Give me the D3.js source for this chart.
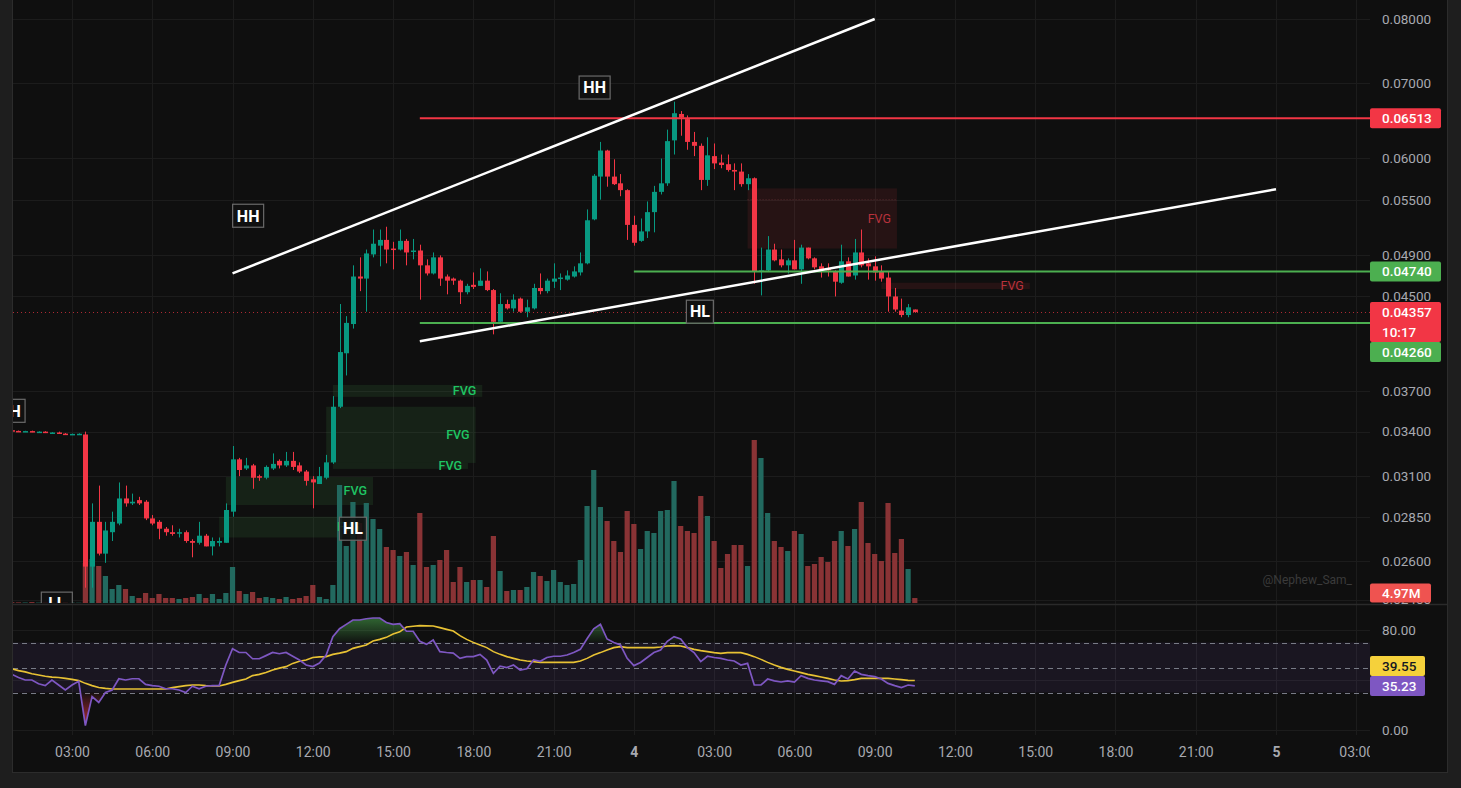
<!DOCTYPE html>
<html>
<head>
<meta charset="utf-8">
<script src="https://cdn.jsdelivr.net/npm/d3@7"></script>
<style>
html, body { margin: 0; padding: 0; background: #1e1e1e; overflow: hidden; }
text { font-family: Roboto, "Noto Sans", sans-serif; }
</style>
</head>
<body>
<div id="chart"></div>
<script>
// 15 minute candles, first one at day 3 00:45
const startTime = new Date(2024, 0, 3, 0, 45)
const barMinutes = 15

const open = [
  .03410, .03405, .03402, .03404, .03398, .03400, .03392, .03394, .03386, .03382, .03384,
  .0338, .0257, .0282, .0264, .0276, .0281, .0296, .0293, .0295, .0294,
  .0284, .0282, .0278, .0276, .02755, .0276, .0271, .0270, .0274, .0268,
  .0270, .0270, .0288, .0321, .0315, .0317, .0310, .0309, .0315, .0320,
  .0317, .0320, .0317, .0313, .0308, .0305, .0309, .0319, .0358, .0400,
  .0425, .0469, .0467, .0491, .0500, .0506, .0497, .0496, .0505, .0494,
  .0495, .0480, .0472, .0488, .0469, .0467, .0465, .0454, .0461, .0460,
  .0465, .0456, .0427, .0443, .0439, .0448, .0436, .0439, .0458, .0455,
  .0464, .0467, .0466, .0469, .0473, .0482, .0528, .0577, .0609, .0577,
  .0569, .0561, .0522, .0505, .0515, .0536, .0559, .0569, .0622, .0657,
  .0650, .0620, .0615, .0573, .0602, .0594, .0592, .0585, .0583, .0568,
  .0575, .0474, .0475, .0496, .0486, .0480, .0485, .0476, .0498, .0487,
  .0479, .0477, .0474, .0463, .0484, .0470, .0493, .0482, .0479, .0474,
  .0468, .0450, .0437, .0433, .0438
]
const high = [
  .03412, .03408, .03406, .03407, .03402, .03403, .03396, .03400, .03390, .03386, .03388,
  .0340, .0293, .0304, .0282, .0288, .0306, .0304, .0299, .0297, .0295,
  .0286, .0283, .0279, .0280, .0278, .0277, .0272, .0282, .0275, .0273,
  .0273, .0293, .0330, .0322, .0322, .0318, .0311, .0317, .0325, .0321,
  .0326, .0326, .0319, .0314, .0310, .0316, .0324, .0366, .0443, .0432,
  .0480, .0488, .0496, .0517, .0517, .0520, .0504, .0517, .0507, .0507,
  .0501, .0486, .0493, .0490, .0471, .0468, .0466, .0462, .0473, .0477,
  .0474, .0457, .0453, .0447, .0452, .0449, .0447, .0462, .0472, .0467,
  .0482, .0472, .0475, .0479, .0493, .0539, .0580, .0620, .0610, .0598,
  .0580, .0562, .0532, .0529, .0548, .0566, .0599, .0636, .0674, .0661,
  .0655, .0633, .0618, .0626, .0618, .0604, .0604, .0593, .0593, .0580,
  .0576, .0498, .0510, .0502, .0496, .0487, .0506, .0501, .0498, .0488,
  .0482, .0482, .0475, .0501, .0488, .0507, .0517, .0487, .0489, .0480,
  .0474, .0458, .0448, .0443, .0438
]
const low = [
  .03402, .03400, .03400, .03396, .03396, .03390, .03390, .03384, .03380, .03380, .03382,
  .0246, .0246, .0263, .0259, .0271, .0280, .0291, .0292, .0292, .0283,
  .0280, .0272, .0274, .0274, .0273, .0270, .0262, .0269, .0268, .0263,
  .0268, .0270, .0285, .0310, .0314, .0302, .0307, .0308, .0314, .0315,
  .0316, .0314, .0312, .0304, .0290, .0305, .0308, .0318, .0357, .0382,
  .0421, .0455, .0436, .0488, .0479, .0482, .0476, .0495, .0480, .0486,
  .0447, .0470, .0471, .0460, .0452, .0461, .0443, .0452, .0457, .0460,
  .0455, .0416, .0426, .0438, .0436, .0435, .0431, .0438, .0452, .0453,
  .0458, .0456, .0465, .0468, .0470, .0481, .0527, .0550, .0565, .0567,
  .0554, .0506, .0500, .0504, .0508, .0514, .0556, .0566, .0604, .0628,
  .0610, .0602, .0561, .0566, .0586, .0587, .0583, .0561, .0565, .0561,
  .0462, .0451, .0474, .0484, .0478, .0472, .0476, .0462, .0486, .0476,
  .0468, .0469, .0450, .0462, .0469, .0466, .0478, .0466, .0465, .0464,
  .0436, .0436, .0431, .0431, .0435
]
const close = [
  .03405, .03402, .03404, .03398, .03400, .03392, .03394, .03386, .03382, .03384, .03385,
  .0257, .0282, .0264, .0277, .0282, .0296, .0293, .0294, .0293, .0284,
  .0281, .0278, .0276, .0275, .0276, .0271, .0270, .0274, .0268, .0271,
  .0271, .0289, .0321, .0314, .0317, .0309, .0309, .0316, .0318, .0317,
  .0320, .0316, .0313, .0307, .0306, .0310, .0319, .0358, .0401, .0426,
  .0469, .0467, .0492, .0502, .0506, .0496, .0496, .0505, .0493, .0495,
  .0480, .0472, .0488, .0467, .0465, .0465, .0454, .0460, .0459, .0465,
  .0456, .0427, .0443, .0439, .0447, .0436, .0440, .0458, .0455, .0465,
  .0467, .0468, .0470, .0474, .0482, .0527, .0578, .0609, .0577, .0568,
  .0561, .0522, .0503, .0515, .0536, .0559, .0569, .0621, .0658, .0652,
  .0620, .0615, .0573, .0603, .0593, .0591, .0585, .0583, .0568, .0575,
  .0474, .0475, .0496, .0485, .0480, .0485, .0476, .0498, .0487, .0478,
  .0476, .0475, .0464, .0484, .0469, .0493, .0480, .0479, .0473, .0467,
  .0450, .0438, .0433, .0440, .04357
]
// volume in millions
const volume = [
  0.8, 0.6, 0.5, 0.9, 0.4, 1.2, 0.5, 1.5, 1.0, 0.4, 0.3,
  40, 44, 37, 27, 14, 18, 14, 7, 5, 10,
  5, 9, 5, 5, 4, 5, 6, 9, 5, 9,
  4, 10, 36, 12, 9, 11, 5, 6, 5, 4,
  6, 4, 5, 7, 18, 6, 4, 18, 118, 57,
  101, 80, 100, 84, 74, 56, 53, 47, 51, 38,
  90, 36, 38, 43, 53, 21, 36, 21, 23, 23,
  16, 67, 32, 12, 13, 13, 16, 31, 27, 22,
  33, 21, 18, 19, 43, 97, 133, 96, 82, 62,
  51, 92, 79, 54, 72, 70, 92, 93, 122, 77,
  72, 70, 107, 87, 62, 35, 49, 58, 58, 37,
  163, 145, 90, 62, 56, 52, 72, 69, 37, 39,
  46, 41, 62, 72, 57, 74, 101, 60, 49, 42,
  100, 50, 64, 34, 4.97
]
const rsi = [
  44.5, 42, 40, 40, 37, 35.5, 40, 36, 32, 36, 39,
  3.5, 26.7, 22, 30, 32, 41, 40, 41, 41, 36.5,
  35.5, 35, 33, 33, 32, 30, 35, 33, 35, 35.5,
  35.5, 52, 65, 62, 62, 57, 57, 59.5, 62, 61,
  62, 59, 56, 52, 50.7, 53.5, 60, 74.7, 81, 84.5,
  88, 88, 89, 89.6, 89.6, 86, 84.5, 85, 79, 79,
  71, 68.5, 72, 62.7, 62, 61.5, 57.3, 58.7, 58.7, 60.5,
  56, 45.3, 51, 50, 52, 48, 49, 56, 55, 58,
  59, 59, 60, 62, 64.5, 73, 81, 84.5, 72.8, 70,
  68, 57.3, 51.5, 54, 58, 62, 64, 71, 74.7, 72.8,
  65.9, 62, 54.7, 59, 58, 57.3, 56, 55.2, 52, 53.3,
  36, 36, 40.8, 39.3, 38.4, 39.3, 38.4, 43.5, 41.3, 40,
  39.3, 38.7, 36.5, 43.5, 40.8, 47.2, 44.5, 43.5, 42.7, 40.8,
  37.3, 35.5, 34, 36, 35.23
]
const rsiMa = [
  49, 47.5, 46.5, 45, 44, 43, 42.3, 42, 41.3, 40.5, 39.5,
  37.3, 35.5, 34, 33.3, 32.8, 32.8, 32.8, 32.8, 32.8, 32.8,
  32.8, 32.8, 32.8, 33.9, 34.7, 35.5, 36, 36, 35.5, 35.2,
  35.2, 36.5, 38.1, 39.5, 40.8, 43.5, 44.5, 46, 48, 49.5,
  50.7, 53.3, 55, 56, 58, 58.5, 58.7, 60.5, 61.5, 62.7,
  65.3, 66.7, 68, 71.2, 72.5, 74.1, 76.8, 78.5, 82.4, 83,
  83.5, 83.3, 83.2, 81.9, 80.5, 79.2, 75.5, 72.5, 70.1, 68,
  65.9, 62.7, 60.5, 58.7, 57.3, 56, 55.2, 54.7, 54.1, 54.1,
  54.1, 54.1, 54.1, 54.1, 55.2, 57.3, 60, 61.9, 64, 65.9,
  66.7, 65.9, 65.9, 65.9, 65.9, 65.9, 66.4, 67.2, 67.5, 67.2,
  65.9, 64.5, 63.5, 62.7, 61.9, 61.3, 61.9, 61.9, 61.9, 60.5,
  58.7, 56.5, 54.1, 52, 50.1, 48.5, 47.2, 45.9, 44.5, 43.5,
  42.4, 41.3, 40, 39.2, 39.5, 40.3, 41.3, 41.3, 41.3, 41.3,
  41.3, 40.8, 40.3, 39.7, 39.55
]

const priceTicks = [0.08, 0.07, 0.06, 0.055, 0.049, 0.045, 0.037, 0.034, 0.031, 0.0285, 0.026, 0.024]
const rsiTicks = [80, 0]
const rsiGrid = [80, 40, 0]

// fair value gaps: [start, end, top, bottom]
const fvgGreen = [
  [new Date(2024, 0, 3, 12, 45), new Date(2024, 0, 3, 18, 20), 0.03746, 0.03654],
  [new Date(2024, 0, 3, 12, 30), new Date(2024, 0, 3, 18, 5), 0.03580, 0.03186],
  [new Date(2024, 0, 3, 12, 45), new Date(2024, 0, 3, 17, 48), 0.03186, 0.03147],
  [new Date(2024, 0, 3, 8, 45), new Date(2024, 0, 3, 14, 15), 0.03095, 0.02920],
  [new Date(2024, 0, 3, 8, 30), new Date(2024, 0, 3, 14, 0), 0.02850, 0.02730]
]
const fvgRed = [
  [new Date(2024, 0, 4, 4, 15), new Date(2024, 0, 4, 9, 50), 0.0563, 0.0497],
  [new Date(2024, 0, 4, 9, 15), new Date(2024, 0, 4, 14, 48), 0.0463, 0.0457]
]
// market structure labels
const structText = ['HH', 'HH', 'HL', 'HL', 'HH', 'LL']
const structTime = [
  new Date(2024, 0, 3, 9, 35), new Date(2024, 0, 3, 22, 32), new Date(2024, 0, 4, 2, 28),
  new Date(2024, 0, 3, 13, 30), new Date(2024, 0, 3, 0, 40), new Date(2024, 0, 3, 2, 26)
]
const structPrice = [0.0532, 0.0694, 0.0436, 0.0278, 0.0355, 0.0238]
// trend lines
const trendFrom = [[new Date(2024, 0, 3, 9, 0), 0.0472], [new Date(2024, 0, 3, 16, 0), 0.0410]]
const trendTo = [[new Date(2024, 0, 4, 9, 0), 0.0800], [new Date(2024, 0, 5, 0, 0), 0.0562]]
// horizontal levels
const levelPrice = [0.06513, 0.0474, 0.0426]
const levelStart = [new Date(2024, 0, 3, 16, 0), new Date(2024, 0, 4, 0, 0), new Date(2024, 0, 3, 16, 0)]
const levelColor = ['#f23645', '#4caf50', '#4caf50']
const countdown = '10:17'

const W = 1461, H = 788
const left = 13, right = 1370
const mainBottom = 603, rsiTop = 605, rsiBottom = 735

const bars = open.map((o, i) => ({
  t: d3.timeMinute.offset(startTime, i * barMinutes),
  o: o, h: high[i], l: low[i], c: close[i], v: volume[i], rsi: rsi[i], ma: rsiMa[i]
}))

const x = d3.scaleTime()
  .domain([new Date(2024, 0, 3, 3, 0), new Date(2024, 0, 5, 0, 0)])
  .range([72, 1276])
const y = d3.scaleLog().domain([0.026, 0.08]).range([561, 19])
const yVol = d3.scaleLinear().domain([0, 170]).range([mainBottom, 433])
const yRsi = d3.scaleLinear().domain([0, 100]).range([730, 605])

const up = '#089981', down = '#f23645'

const svg = d3.select('#chart').append('svg')
  .attr('width', W).attr('height', H)

const defs = svg.append('defs')
defs.append('clipPath').attr('id', 'clipMain')
  .append('rect').attr('x', left).attr('y', 0).attr('width', right - left).attr('height', mainBottom)
defs.append('clipPath').attr('id', 'clipRsi')
  .append('rect').attr('x', left).attr('y', rsiTop).attr('width', right - left).attr('height', rsiBottom - rsiTop)
defs.append('clipPath').attr('id', 'clipOver')
  .append('rect').attr('x', left).attr('y', rsiTop).attr('width', right - left).attr('height', yRsi(70) - rsiTop)
defs.append('clipPath').attr('id', 'clipUnder')
  .append('rect').attr('x', left).attr('y', yRsi(30)).attr('width', right - left).attr('height', rsiBottom - yRsi(30))
defs.append('clipPath').attr('id', 'clipAxis')
  .append('rect').attr('x', left).attr('y', 0).attr('width', right - left).attr('height', H)

const gOver = defs.append('linearGradient').attr('id', 'gradOver')
  .attr('gradientUnits', 'userSpaceOnUse').attr('x1', 0).attr('x2', 0)
  .attr('y1', yRsi(92)).attr('y2', yRsi(70))
gOver.append('stop').attr('offset', 0).attr('stop-color', '#4caf50').attr('stop-opacity', 0.6)
gOver.append('stop').attr('offset', 1).attr('stop-color', '#4caf50').attr('stop-opacity', 0.03)
const gUnder = defs.append('linearGradient').attr('id', 'gradUnder')
  .attr('gradientUnits', 'userSpaceOnUse').attr('x1', 0).attr('x2', 0)
  .attr('y1', yRsi(30)).attr('y2', yRsi(3))
gUnder.append('stop').attr('offset', 0).attr('stop-color', '#f23645').attr('stop-opacity', 0.03)
gUnder.append('stop').attr('offset', 1).attr('stop-color', '#f23645').attr('stop-opacity', 0.75)

// frame
svg.append('rect').attr('width', W).attr('height', H).attr('fill', '#1e1e1e')
svg.append('rect').attr('x', left).attr('y', 0).attr('width', 1447 - left).attr('height', 772).attr('fill', '#0f0f0f')
svg.append('line').attr('x1', 12.5).attr('x2', 12.5).attr('y1', 0).attr('y2', 772).attr('stroke', '#2c2c2c')
svg.append('line').attr('x1', 12).attr('x2', 1447).attr('y1', 772.5).attr('y2', 772.5).attr('stroke', '#2c2c2c')
svg.append('line').attr('x1', 1447.5).attr('x2', 1447.5).attr('y1', 0).attr('y2', 773).attr('stroke', '#2c2c2c')

// grid
const timeTicks = d3.timeHour.every(3).range(x.invert(left), x.invert(right + 20))
const grid = svg.append('g').attr('stroke', '#1c1c1c').attr('stroke-width', 1).attr('clip-path', 'url(#clipAxis)')
grid.selectAll('.vg').data(timeTicks).join('line')
  .attr('x1', d => Math.round(x(d)) + 0.5).attr('x2', d => Math.round(x(d)) + 0.5)
  .attr('y1', 0).attr('y2', rsiBottom)
grid.selectAll('.hg').data(priceTicks).join('line')
  .attr('x1', left).attr('x2', right)
  .attr('y1', d => Math.round(y(d)) + 0.5).attr('y2', d => Math.round(y(d)) + 0.5)
grid.selectAll('.rg').data(rsiGrid).join('line')
  .attr('x1', left).attr('x2', right)
  .attr('y1', d => Math.round(yRsi(d)) + 0.5).attr('y2', d => Math.round(yRsi(d)) + 0.5)
svg.append('line').attr('x1', left).attr('x2', 1447).attr('y1', mainBottom + 1.5).attr('y2', mainBottom + 1.5)
  .attr('stroke', '#2a2a2a').attr('stroke-width', 1.5)

// main pane
const main = svg.append('g').attr('clip-path', 'url(#clipMain)')

main.selectAll('.fvg-g').data(fvgGreen).join('rect')
  .attr('x', d => x(d[0])).attr('width', d => x(d[1]) - x(d[0]))
  .attr('y', d => y(d[2])).attr('height', d => y(d[3]) - y(d[2]))
  .attr('fill', '#4caf50').attr('fill-opacity', 0.12)
main.selectAll('.fvg-r').data(fvgRed).join('rect')
  .attr('x', d => x(d[0])).attr('width', d => x(d[1]) - x(d[0]))
  .attr('y', d => y(d[2])).attr('height', d => y(d[3]) - y(d[2]))
  .attr('fill', '#f23645').attr('fill-opacity', 0.1)
main.append('line')
  .attr('x1', x(fvgRed[0][0])).attr('x2', x(fvgRed[0][1]))
  .attr('y1', y(0.0550)).attr('y2', y(0.0550))
  .attr('stroke', '#5a2a2e').attr('stroke-dasharray', '1,2')

// volume
main.append('g').selectAll('rect').data(bars).join('rect')
  .attr('x', d => x(d.t) - 2.6).attr('width', 5.2)
  .attr('y', d => yVol(d.v)).attr('height', d => Math.max(0.6, mainBottom - yVol(d.v)))
  .attr('fill', d => d.c >= d.o ? '#22695f' : '#893335')

// candles
const candles = main.append('g')
candles.selectAll('line').data(bars).join('line')
  .attr('x1', d => Math.round(x(d.t)) + 0.5).attr('x2', d => Math.round(x(d.t)) + 0.5)
  .attr('y1', d => y(d.h)).attr('y2', d => y(d.l))
  .attr('stroke', d => d.c >= d.o ? up : down).attr('stroke-width', 1)
candles.selectAll('rect').data(bars).join('rect')
  .attr('x', d => Math.round(x(d.t)) - 2).attr('width', 5)
  .attr('y', d => y(Math.max(d.o, d.c)))
  .attr('height', d => Math.max(1.5, y(Math.min(d.o, d.c)) - y(Math.max(d.o, d.c))))
  .attr('fill', d => d.c >= d.o ? up : down)

// fvg labels
main.selectAll('.fvg-gt').data(fvgGreen).join('text')
  .attr('x', d => x(d[1]) - 6).attr('y', d => (y(d[2]) + y(d[3])) / 2)
  .attr('dy', '0.35em').attr('text-anchor', 'end')
  .attr('font-size', 12.5).attr('font-weight', 500).attr('fill', '#1fc463')
  .text('FVG')
main.selectAll('.fvg-rt').data(fvgRed).join('text')
  .attr('x', d => x(d[1]) - 6).attr('y', d => (y(d[2]) + y(d[3])) / 2)
  .attr('dy', '0.35em').attr('text-anchor', 'end')
  .attr('font-size', 12.5).attr('fill', '#b8323c')
  .text('FVG')

// last price line
const last = bars[bars.length - 1]
svg.append('line').attr('x1', left).attr('x2', right)
  .attr('y1', Math.round(y(last.c)) + 0.5).attr('y2', Math.round(y(last.c)) + 0.5)
  .attr('stroke', '#f23645').attr('stroke-opacity', 0.7).attr('stroke-dasharray', '1,3')

// drawings
const draw = svg.append('g').attr('clip-path', 'url(#clipMain)')
draw.selectAll('.lvl').data(levelPrice).join('line')
  .attr('x1', (d, i) => x(levelStart[i])).attr('x2', right)
  .attr('y1', d => y(d)).attr('y2', d => y(d))
  .attr('stroke', (d, i) => levelColor[i]).attr('stroke-width', 2)
draw.selectAll('.trend').data(trendFrom).join('line')
  .attr('x1', d => x(d[0])).attr('y1', d => y(d[1]))
  .attr('x2', (d, i) => x(trendTo[i][0])).attr('y2', (d, i) => y(trendTo[i][1]))
  .attr('stroke', '#ffffff').attr('stroke-width', 2.5)

const struct = draw.selectAll('.st').data(structText).join('g')
  .attr('transform', (d, i) => `translate(${x(structTime[i])},${y(structPrice[i])})`)
struct.append('rect')
  .attr('x', d => -(d === 'HL' ? 13.5 : 15.5)).attr('y', -11.5)
  .attr('width', d => d === 'HL' ? 27 : 31).attr('height', 23)
  .attr('fill', '#111111').attr('fill-opacity', 0.85)
  .attr('stroke', '#6a6a6a').attr('stroke-width', 1.2)
struct.append('text')
  .attr('text-anchor', 'middle').attr('dy', '0.36em')
  .attr('font-size', 16).attr('font-weight', 700).attr('fill', '#ffffff')
  .text(d => d)

// rsi pane
const rsiG = svg.append('g').attr('clip-path', 'url(#clipRsi)')
rsiG.append('rect').attr('x', left).attr('width', right - left)
  .attr('y', yRsi(70)).attr('height', yRsi(30) - yRsi(70))
  .attr('fill', '#7e57c2').attr('fill-opacity', 0.1)
rsiG.selectAll('.band').data([70, 50, 30]).join('line')
  .attr('x1', left).attr('x2', right)
  .attr('y1', d => Math.round(yRsi(d)) + 0.5).attr('y2', d => Math.round(yRsi(d)) + 0.5)
  .attr('stroke', '#787b86').attr('stroke-dasharray', '5,4').attr('stroke-width', 1)

rsiG.append('path').datum(bars)
  .attr('clip-path', 'url(#clipOver)')
  .attr('d', d3.area().x(d => x(d.t)).y0(yRsi(70)).y1(d => yRsi(d.rsi)))
  .attr('fill', 'url(#gradOver)')
rsiG.append('path').datum(bars)
  .attr('clip-path', 'url(#clipUnder)')
  .attr('d', d3.area().x(d => x(d.t)).y0(yRsi(30)).y1(d => yRsi(d.rsi)))
  .attr('fill', 'url(#gradUnder)')

rsiG.append('path').datum(bars)
  .attr('d', d3.line().x(d => x(d.t)).y(d => yRsi(d.ma)))
  .attr('fill', 'none').attr('stroke', '#e8c234').attr('stroke-width', 1.6)
rsiG.append('path').datum(bars)
  .attr('d', d3.line().x(d => x(d.t)).y(d => yRsi(d.rsi)))
  .attr('fill', 'none').attr('stroke', '#7e57c2').attr('stroke-width', 1.7)

// price axis
const axisColor = '#a7a9b0'
const pAxis = svg.append('g').attr('transform', `translate(${right},0)`)
  .call(d3.axisRight(y).tickValues(priceTicks).tickFormat(d3.format('.5f')).tickSize(0).tickPadding(12))
pAxis.select('.domain').remove()
pAxis.selectAll('text').attr('fill', axisColor).attr('font-size', 13.5)
  .attr('font-family', 'Roboto, "Noto Sans", sans-serif')

const rAxis = svg.append('g').attr('transform', `translate(${right},0)`)
  .call(d3.axisRight(yRsi).tickValues(rsiTicks).tickFormat(d3.format('.2f')).tickSize(0).tickPadding(12))
rAxis.select('.domain').remove()
rAxis.selectAll('text').attr('fill', axisColor).attr('font-size', 13.5)
  .attr('font-family', 'Roboto, "Noto Sans", sans-serif')

// time axis, clipped at the price scale
const fmtTime = d => d.getHours() === 0 ? d3.timeFormat('%-d')(d) : d3.timeFormat('%H:%M')(d)
const tWrap = svg.append('g').attr('clip-path', 'url(#clipAxis)')
const tAxis = tWrap.append('g').attr('transform', `translate(0,${rsiBottom + 12})`)
  .call(d3.axisBottom(x).tickValues(timeTicks).tickFormat(fmtTime).tickSize(0).tickPadding(0))
tAxis.select('.domain').remove()
tAxis.selectAll('text').attr('fill', axisColor).attr('font-size', 14)
  .attr('font-family', 'Roboto, "Noto Sans", sans-serif')
  .attr('font-weight', d => d.getHours() === 0 ? 700 : 400)

// axis labels
function axisLabel(cy, w, h, fill, color, lines) {
  const g = svg.append('g').attr('transform', `translate(${right},${cy - h / 2})`)
  g.append('rect').attr('width', w).attr('height', h).attr('rx', 2).attr('fill', fill)
  lines.forEach((t, i) => {
    g.append('text').attr('x', 12).attr('y', 10 + i * 20).attr('dy', '0.36em')
      .attr('font-size', 13.5).attr('font-weight', 500).attr('fill', color).text(t)
  })
  return cy + h / 2
}
axisLabel(y(levelPrice[0]), 71, 20, '#f23645', '#ffffff', [d3.format('.5f')(levelPrice[0])])
axisLabel(y(levelPrice[1]), 71, 20, '#4caf50', '#ffffff', [d3.format('.5f')(levelPrice[1])])
const lastTop = y(last.c) - 10
const lastBottom = axisLabel(lastTop + 20, 71, 40, '#f23645', '#ffffff', [d3.format('.5f')(last.c), countdown])
const lvlCy = Math.max(y(levelPrice[2]), lastBottom + 10)
axisLabel(lvlCy, 71, 20, '#4caf50', '#ffffff', [d3.format('.5f')(levelPrice[2])])
axisLabel(Math.min(yVol(last.v), mainBottom - 10), 61, 19, '#ef5350', '#ffffff', [d3.format('.2f')(last.v) + 'M'])
const rsiCy = yRsi(last.rsi)
axisLabel(rsiCy, 55, 20, '#7e57c2', '#ffffff', [d3.format('.2f')(last.rsi)])
axisLabel(Math.min(yRsi(last.ma), rsiCy - 20), 55, 20, '#f5d13b', '#131722', [d3.format('.2f')(last.ma)])

// watermark
svg.append('text').attr('x', 1352).attr('y', 580).attr('dy', '0.35em')
  .attr('text-anchor', 'end').attr('font-size', 12).attr('fill', '#3b3b3b')
  .text('@Nephew_Sam_')
</script>
</body>
</html>
